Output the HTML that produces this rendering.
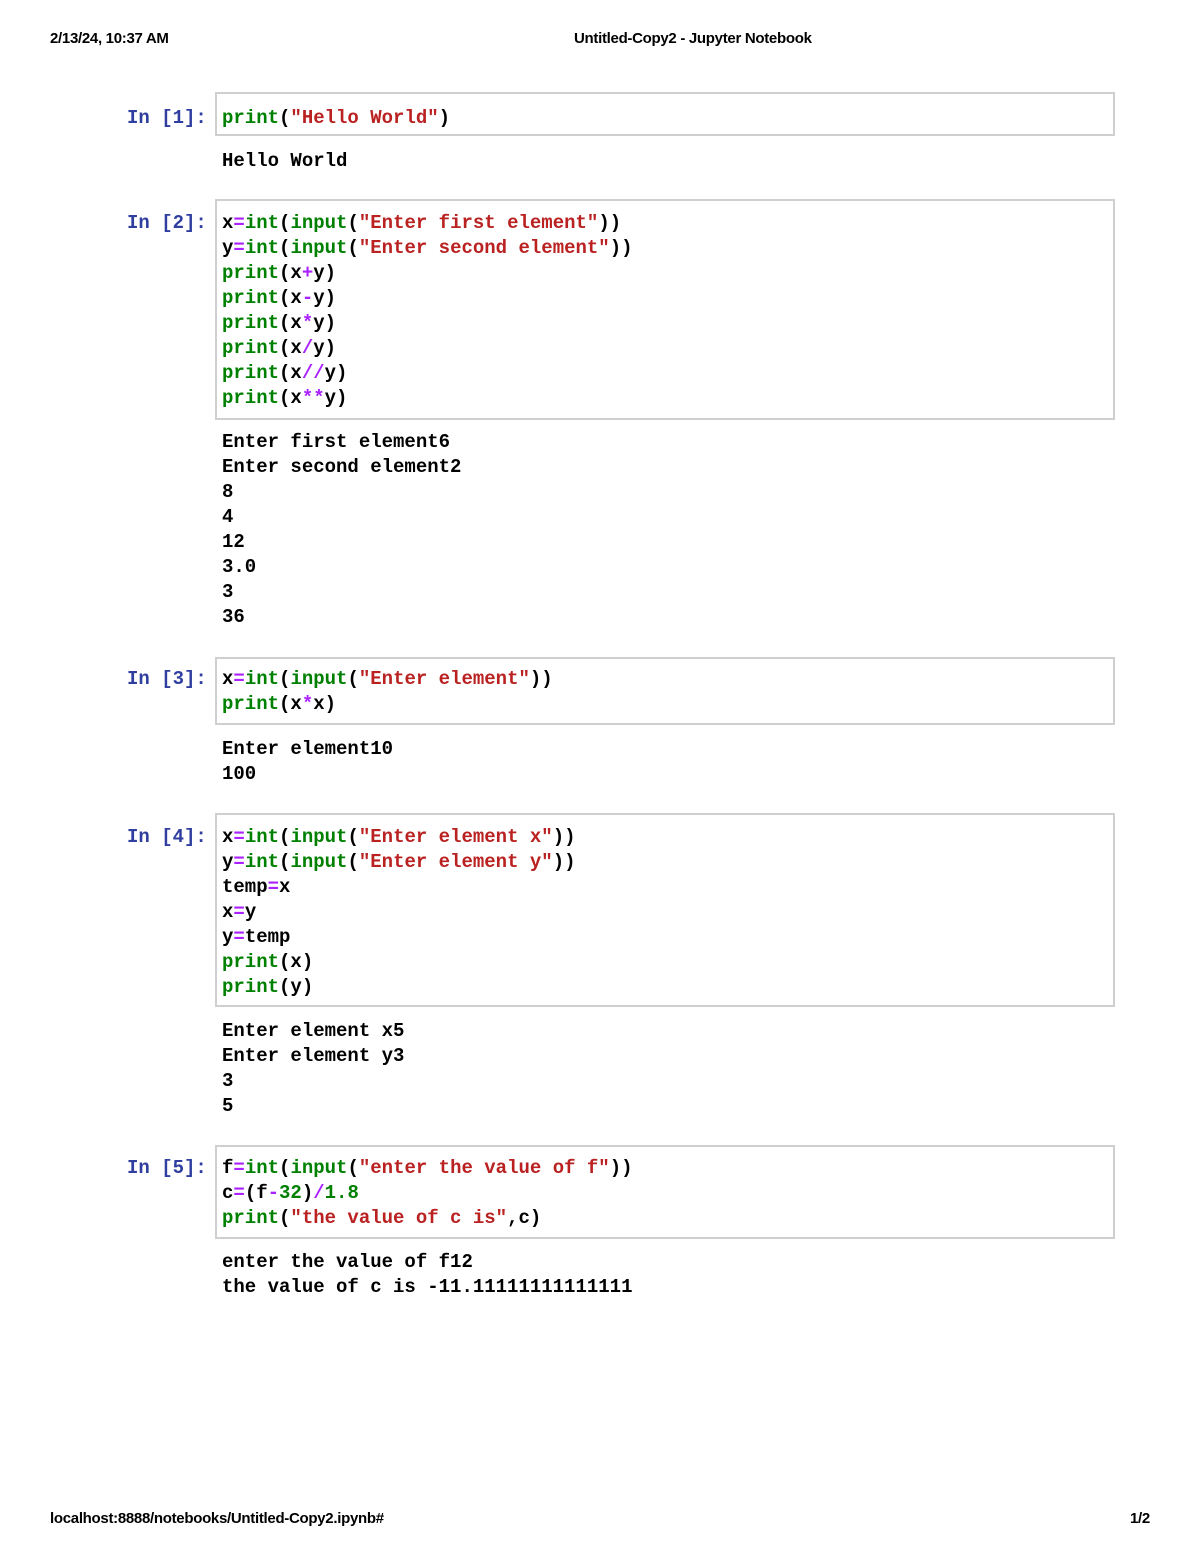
<!DOCTYPE html>
<html><head><meta charset="utf-8"><style>
body{margin:0;width:1200px;height:1553px;background:#fff;position:relative;font-family:"Liberation Sans",sans-serif;}
.hd{position:absolute;font-size:15px;font-weight:bold;color:#000;letter-spacing:-0.3px;}
.p{position:absolute;left:127px;font-family:"Liberation Mono",monospace;font-weight:bold;font-size:19px;color:#303F9F;line-height:25px;}
.box{position:absolute;left:215px;width:900px;border:2px solid #cfcfcf;background:#fff;box-sizing:border-box;}
.c{position:absolute;left:222px;font-family:"Liberation Mono",monospace;font-weight:bold;font-size:19px;line-height:25px;white-space:pre;color:#000;}
.g{color:#008000}.r{color:#BA2121}.o{color:#AA22FF}
</style></head><body>
<div class="hd" style="left:50px;top:30px">2/13/24, 10:37 AM</div>
<div class="hd" style="left:574px;top:30px">Untitled-Copy2 - Jupyter Notebook</div>

<div class="box" style="top:92px;height:44px"></div>
<div class="p" style="top:106px">In [1]:</div>
<div class="c" style="top:106px"><span class="g">print</span>(<span class="r">"Hello World"</span>)</div>
<div class="c" style="top:149px">Hello World</div>

<div class="box" style="top:199px;height:221px"></div>
<div class="p" style="top:211px">In [2]:</div>
<div class="c" style="top:211px">x<span class="o">=</span><span class="g">int</span>(<span class="g">input</span>(<span class="r">"Enter first element"</span>))
y<span class="o">=</span><span class="g">int</span>(<span class="g">input</span>(<span class="r">"Enter second element"</span>))
<span class="g">print</span>(x<span class="o">+</span>y)
<span class="g">print</span>(x<span class="o">-</span>y)
<span class="g">print</span>(x<span class="o">*</span>y)
<span class="g">print</span>(x<span class="o">/</span>y)
<span class="g">print</span>(x<span class="o">//</span>y)
<span class="g">print</span>(x<span class="o">**</span>y)</div>
<div class="c" style="top:430px">Enter first element6
Enter second element2
8
4
12
3.0
3
36</div>

<div class="box" style="top:657px;height:68px"></div>
<div class="p" style="top:667px">In [3]:</div>
<div class="c" style="top:667px">x<span class="o">=</span><span class="g">int</span>(<span class="g">input</span>(<span class="r">"Enter element"</span>))
<span class="g">print</span>(x<span class="o">*</span>x)</div>
<div class="c" style="top:737px">Enter element10
100</div>

<div class="box" style="top:813px;height:194px"></div>
<div class="p" style="top:825px">In [4]:</div>
<div class="c" style="top:825px">x<span class="o">=</span><span class="g">int</span>(<span class="g">input</span>(<span class="r">"Enter element x"</span>))
y<span class="o">=</span><span class="g">int</span>(<span class="g">input</span>(<span class="r">"Enter element y"</span>))
temp<span class="o">=</span>x
x<span class="o">=</span>y
y<span class="o">=</span>temp
<span class="g">print</span>(x)
<span class="g">print</span>(y)</div>
<div class="c" style="top:1019px">Enter element x5
Enter element y3
3
5</div>

<div class="box" style="top:1145px;height:94px"></div>
<div class="p" style="top:1156px">In [5]:</div>
<div class="c" style="top:1156px">f<span class="o">=</span><span class="g">int</span>(<span class="g">input</span>(<span class="r">"enter the value of f"</span>))
c<span class="o">=</span>(f<span class="o">-</span><span class="g">32</span>)<span class="o">/</span><span class="g">1.8</span>
<span class="g">print</span>(<span class="r">"the value of c is"</span>,c)</div>
<div class="c" style="top:1250px">enter the value of f12
the value of c is -11.11111111111111</div>

<div class="hd" style="left:50px;top:1510px">localhost:8888/notebooks/Untitled-Copy2.ipynb#</div>
<div class="hd" style="left:1130px;top:1510px">1/2</div>
</body></html>
